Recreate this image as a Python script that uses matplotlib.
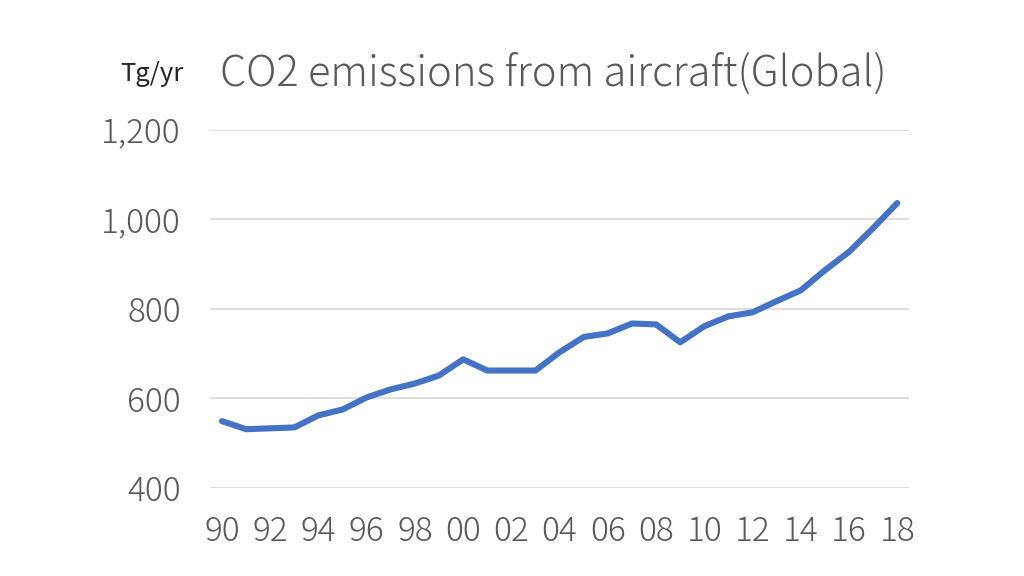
import matplotlib.pyplot as plt
import numpy as np

plt.rcParams['font.family'] = ['Noto Sans CJK JP', 'DejaVu Sans']

years = list(range(1990, 2019))
emissions = [549, 531, 533, 535, 562, 575, 602, 620, 633, 651, 687, 662, 662, 662,
             703, 737, 745, 767, 765, 725, 761, 783, 792, 817, 841, 886, 927, 980, 1036]
ytick_vals = [400, 600, 800, 1000, 1200]
ytick_labels = ['400', '600', '800', '1,000', '1,200']

gray = '#595959'

fig = plt.figure(figsize=(10.24, 5.76), dpi=100)
ax = fig.add_axes([0.205, 0.153, 0.683, 0.622])

ax.plot(years, emissions, color='#4472C4', linewidth=4.4, solid_capstyle='round',
        solid_joinstyle='round', zorder=3)

ax.set_ylim(400, 1200)
ax.set_xlim(1989.5, 2018.5)
ax.set_yticks(ytick_vals)
ax.set_yticklabels(ytick_labels)
xt = years[::2]
ax.set_xticks(xt)
ax.set_xticklabels([f'{y % 100:02d}' for y in xt])

ax.grid(axis='y', color='#d9d9d9', linewidth=1.2, zorder=0)
for s in ax.spines.values():
    s.set_visible(False)
ax.tick_params(length=0, labelsize=24, colors=gray)
ax.tick_params(axis='y', pad=21)
ax.tick_params(axis='x', pad=19)
for lbl in ax.get_xticklabels() + ax.get_yticklabels():
    lbl.set_fontweight('light')

fig.text(0.215, 0.872, 'CO2 emissions from aircraft(Global)', fontsize=30, color=gray,
         va='center', ha='left', fontweight='light')
fig.text(0.179, 0.872, 'Tg/yr', fontsize=18.5, color='#262626', va='center', ha='right')

fig.savefig('out.png', dpi=100, facecolor='white')
